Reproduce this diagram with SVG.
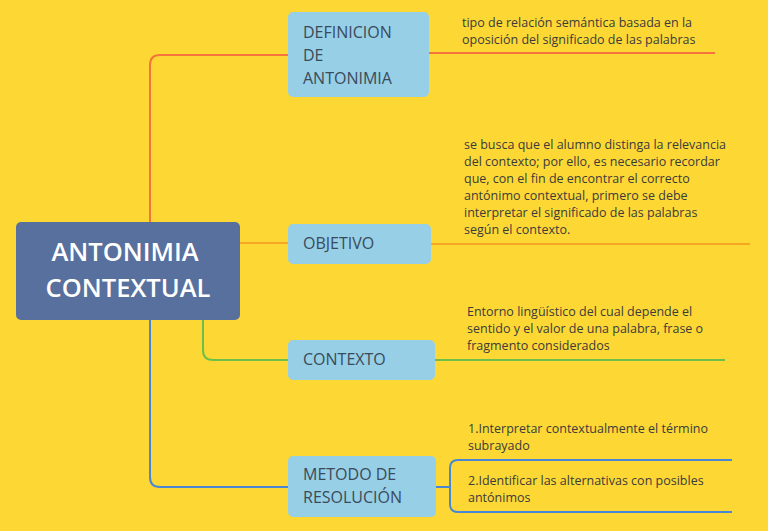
<svg xmlns="http://www.w3.org/2000/svg" width="768" height="531" viewBox="0 0 768 531">
<style>
.box{fill:#96CFE6}
.t{font-family:"Open Sans","Liberation Sans",sans-serif;font-size:16px;fill:#3b4a5a}
.s{font-family:"Open Sans","Liberation Sans",sans-serif;font-size:12.5px;fill:#3b3b3b}
.c{fill:none;stroke-width:2}
</style>
<rect width="768" height="531" fill="#FDD835"/>
<g id="connectors">
<path class="c" stroke="#F4743B" d="M150 222 V65 Q150 55 160 55 H288 M429 53 H715"/>
<path class="c" stroke="#F5A623" d="M240 243 H288 M431 244 H750"/>
<path class="c" stroke="#6CC04A" d="M203 320 V350 Q203 360 213 360 H288 M435 360 H725"/>
<path class="c" stroke="#4A86D6" d="M150 320 V477 Q150 487 160 487 H288 M436 487 H449 M732 460 H458 Q450 460 450 468 V504 Q450 512 458 512 H732"/>
</g>
<g id="central"><rect x="16" y="222" width="224" height="98" rx="5" fill="#58709E"/>
<text x="125" y="261" text-anchor="middle" font-family="Open Sans,Liberation Sans,sans-serif" font-weight="600" font-size="25.5" fill="#fff">ANTONIMIA</text>
<text x="128" y="297" text-anchor="middle" font-family="Open Sans,Liberation Sans,sans-serif" font-weight="600" font-size="25.5" fill="#fff">CONTEXTUAL</text></g>
<g id="definicion"><rect class="box" x="288" y="12" width="141" height="85" rx="5"/>
<text class="t" x="303" y="38">DEFINICION</text><text class="t" x="303" y="61">DE</text><text class="t" x="303" y="84">ANTONIMIA</text></g>
<g id="objetivo"><rect class="box" x="288" y="224" width="143" height="40" rx="5"/><text class="t" x="303" y="249">OBJETIVO</text></g>
<g id="contexto"><rect class="box" x="288" y="340" width="147" height="40" rx="5"/><text class="t" x="303" y="365">CONTEXTO</text></g>
<g id="metodo"><rect class="box" x="288" y="456" width="148" height="61" rx="5"/><text class="t" x="303" y="480">METODO DE</text><text class="t" x="303" y="503">RESOLUCIÓN</text></g>
<g id="labels">
<text class="s" x="462" y="27">tipo de relación semántica basada en la</text>
<text class="s" x="462" y="44">oposición del significado de las palabras</text>
<text class="s" x="464" y="149">se busca que el alumno distinga la relevancia</text>
<text class="s" x="464" y="166">del contexto; por ello, es necesario recordar</text>
<text class="s" x="464" y="183">que, con el fin de encontrar el correcto</text>
<text class="s" x="464" y="200">antónimo contextual, primero se debe</text>
<text class="s" x="464" y="217">interpretar el significado de las palabras</text>
<text class="s" x="464" y="234">según el contexto.</text>
<text class="s" x="467" y="316">Entorno lingüístico del cual depende el</text>
<text class="s" x="467" y="333">sentido y el valor de una palabra, frase o</text>
<text class="s" x="467" y="350">fragmento considerados</text>
<text class="s" x="468" y="433">1.Interpretar contextualmente el término</text>
<text class="s" x="468" y="450">subrayado</text>
<text class="s" x="468" y="485">2.Identificar las alternativas con posibles</text>
<text class="s" x="468" y="502">antónimos</text>
</g>
</svg>
